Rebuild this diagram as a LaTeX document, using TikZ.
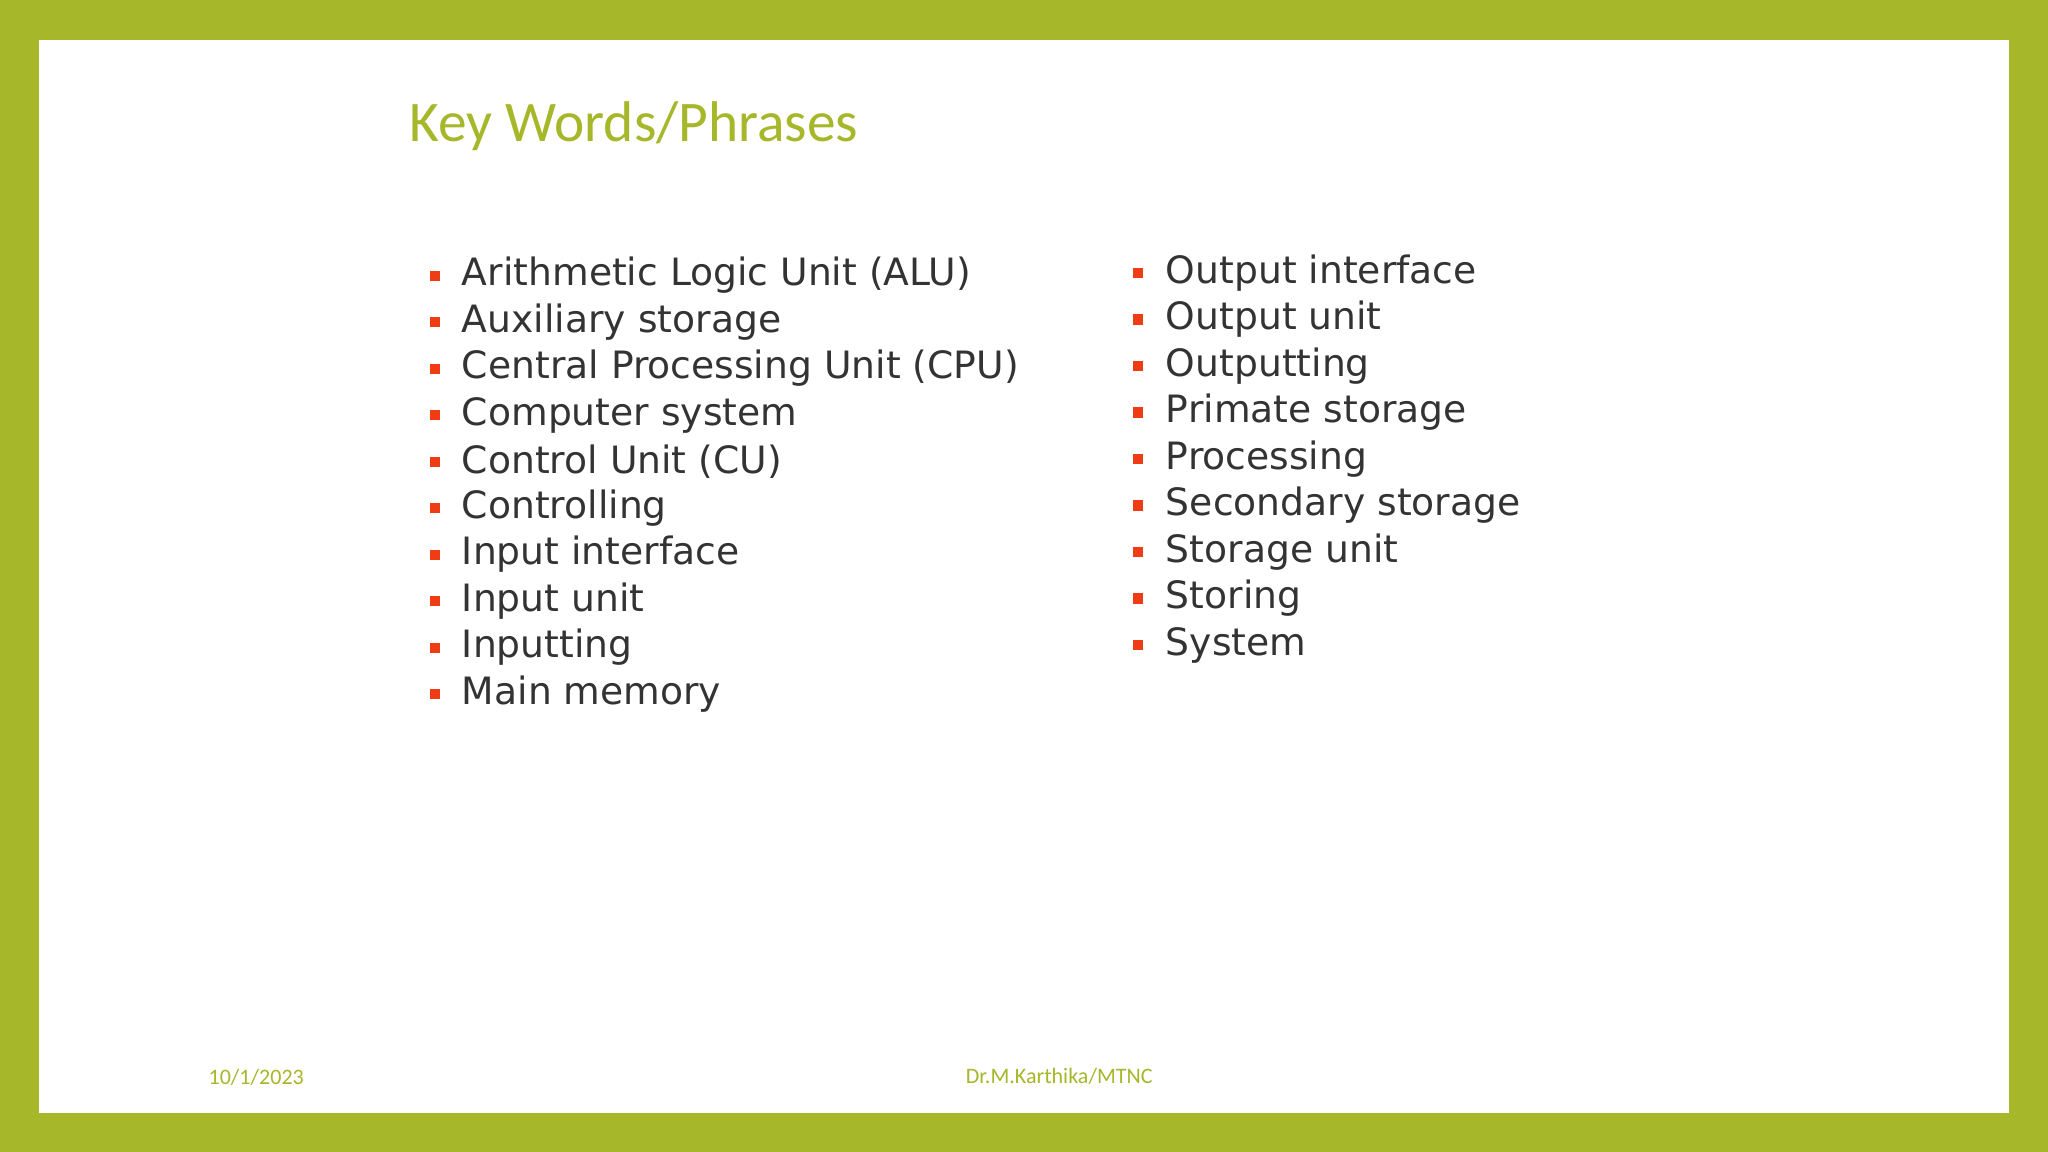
\documentclass[tikz,border=0pt]{standalone}
\usepackage{fontspec}
\setmainfont{DejaVu Sans}
\newfontfamily\titlefont{Carlito}
\definecolor{frame}{HTML}{A6B72A}
\definecolor{bul}{HTML}{F03C14}
\definecolor{txt}{HTML}{333333}
\begin{document}
\begin{tikzpicture}[x=0.01cm,y=-0.01cm,
  item/.style={anchor=west,inner sep=0,text=txt,font=\fontsize{8.2}{9}\selectfont},
  bl/.style={fill=bul,inner sep=0,minimum size=2.2pt},
  foot/.style={text=frame,font=\titlefont\fontsize{4.8}{5}\selectfont,inner sep=0}]
\fill[frame] (0,0) rectangle (1568,882);
\fill[white] (30,31) rectangle (1538,852);
\node[anchor=west,inner sep=0,text=frame,font=\titlefont\fontsize{12.5}{14}\selectfont] (title) at (313,97) {Key Words/Phrases};
\foreach \t [count=\i from 0] in {Arithmetic Logic Unit (ALU),Auxiliary storage,Central Processing Unit (CPU),Computer system,Control Unit (CU),Controlling,Input interface,Input unit,Inputting,Main memory}{
  \node[bl] (lb\i) at (333,{211+35.6*\i}) {};
  \node[item] (l\i) at (353,{211+35.6*\i}) {\t};
}
\foreach \t [count=\i from 0] in {Output interface,Output unit,Outputting,Primate storage,Processing,Secondary storage,Storage unit,Storing,System}{
  \node[bl] (rb\i) at (871,{209+35.6*\i}) {};
  \node[item] (r\i) at (892,{209+35.6*\i}) {\t};
}
\node[foot,anchor=west] (date) at (159,825) {10/1/2023};
\node[foot] (auth) at (811,824) {Dr.M.Karthika/MTNC};
\end{tikzpicture}
\end{document}
